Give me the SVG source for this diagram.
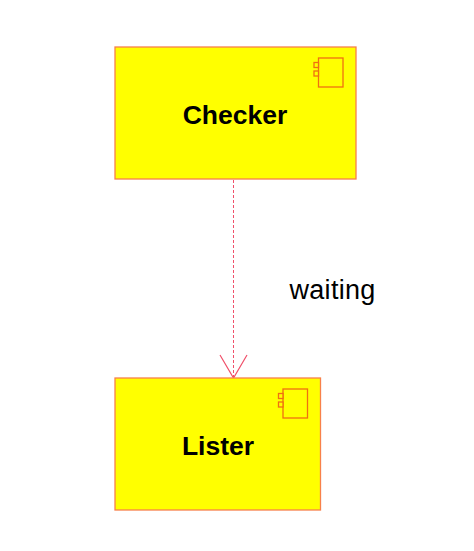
<svg xmlns="http://www.w3.org/2000/svg" width="474" height="551" viewBox="0 0 474 551">
<style>
.box{fill:#ffff00;stroke:#f8804a;stroke-width:1.3}
.ico{fill:#ffff00;stroke:#f07010;stroke-width:1.3}
.name{font-family:"Liberation Sans",Arial,sans-serif;font-weight:700;font-size:26.500px;fill:#000;text-anchor:middle}
.lbl{font-family:"Liberation Sans",Arial,sans-serif;font-size:27px;letter-spacing:.3px;fill:#000}
.dash{fill:none;stroke:#f0506a;stroke-width:1;stroke-dasharray:3 2}
.head{fill:none;stroke:#f0506a;stroke-width:1.200}
</style>
<rect width="474" height="551" fill="#fff"/>
<g id="connectors">
<path class="dash" d="M233.500 180V378"/>
<path class="head" d="M220 355L233.500 378L247 355"/>
</g>
<g id="checker">
<rect class="box" x="115" y="47" width="241" height="132"/>
<rect class="ico" x="318.500" y="58" width="24.500" height="29"/>
<rect class="ico" x="314" y="62.500" width="4.500" height="5"/>
<rect class="ico" x="314" y="71" width="4.500" height="5"/>
<text class="name" x="235" y="124">Checker</text>
</g>
<g id="lister">
<rect class="box" x="115" y="378" width="205.500" height="132"/>
<rect class="ico" x="283" y="389" width="24.500" height="29"/>
<rect class="ico" x="278.500" y="393.500" width="4.500" height="5"/>
<rect class="ico" x="278.500" y="402" width="4.500" height="5"/>
<text class="name" x="218" y="455">Lister</text>
</g>
<text id="edge-label" class="lbl" x="289.500" y="299">waiting</text>
</svg>
